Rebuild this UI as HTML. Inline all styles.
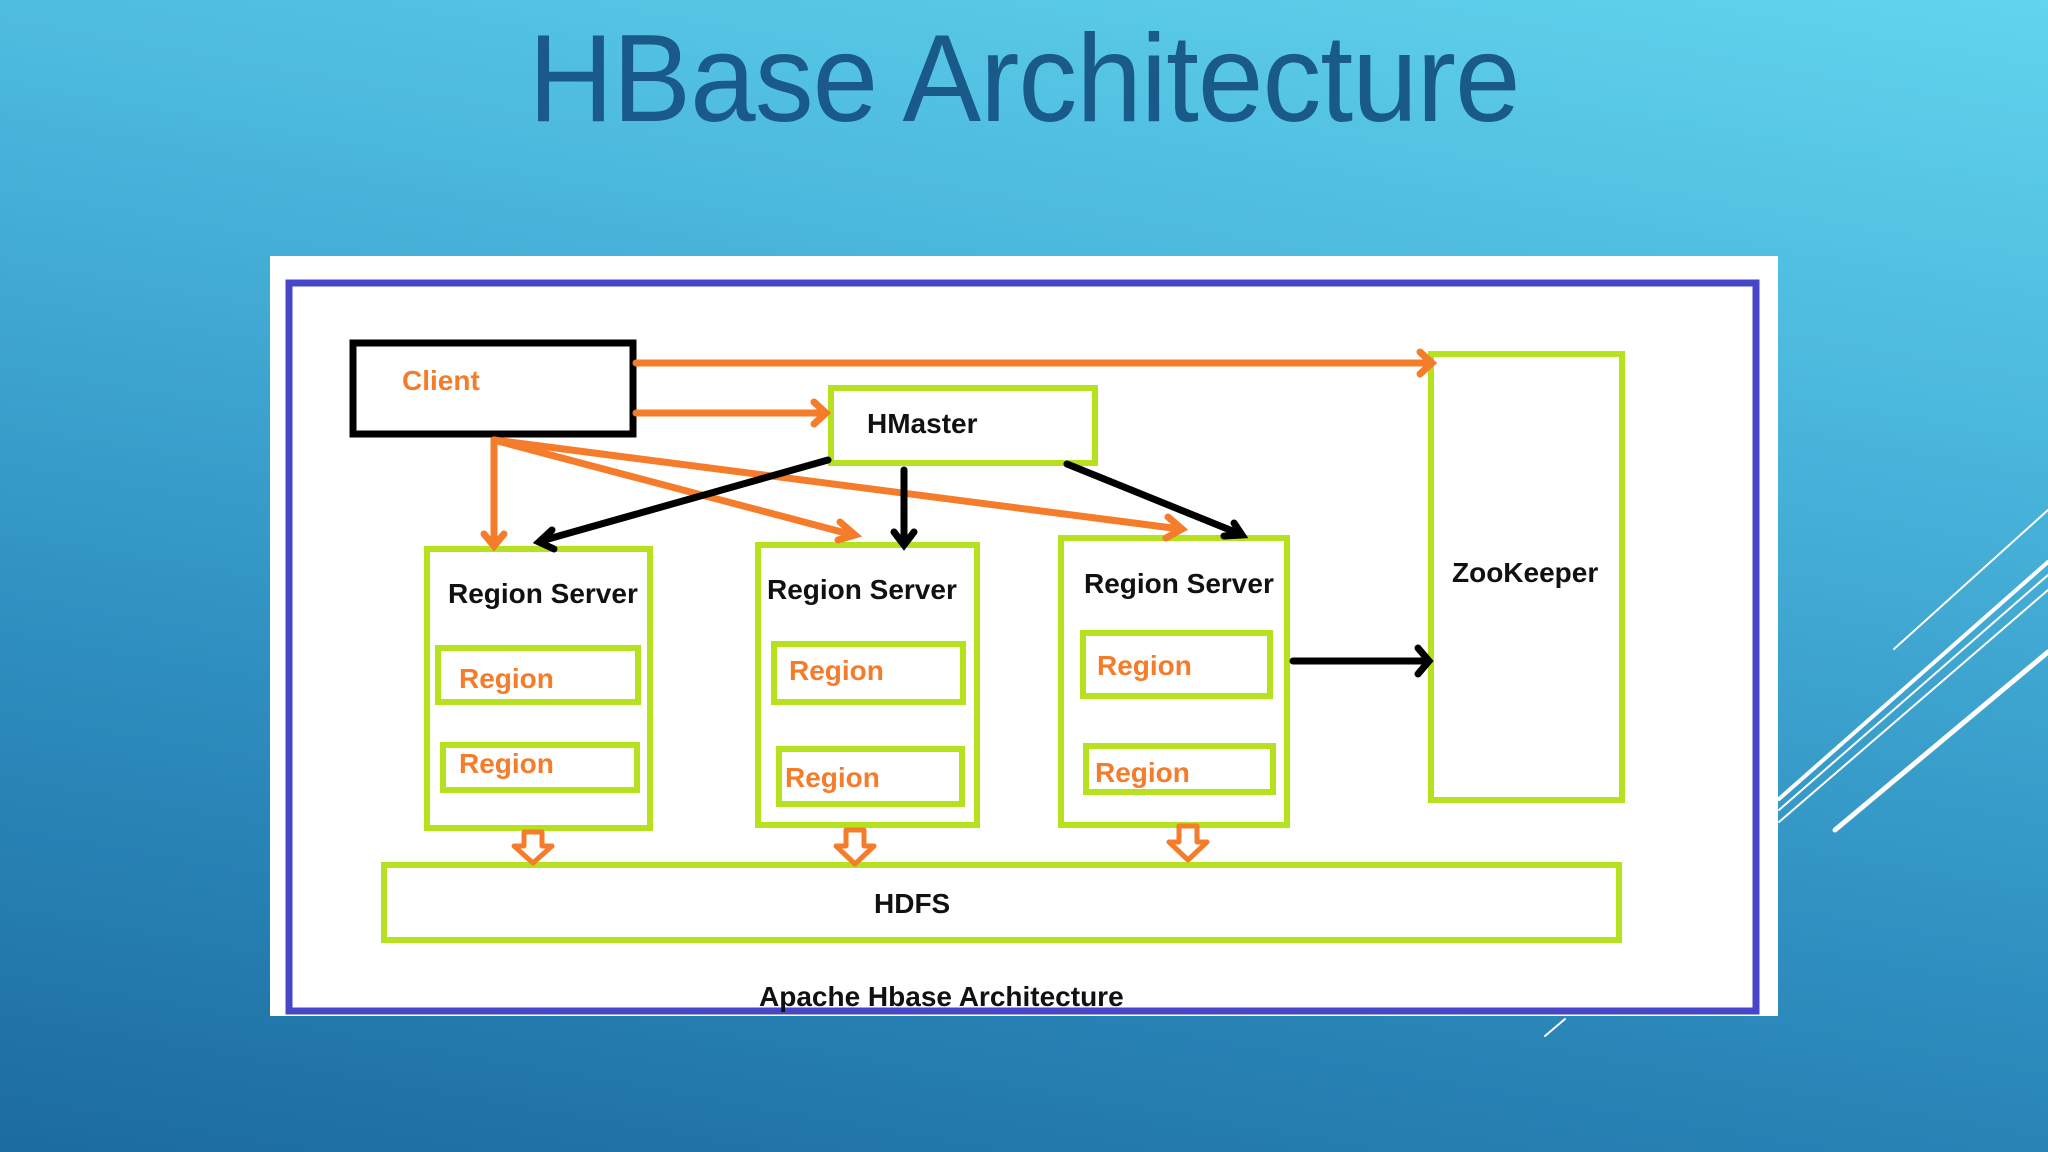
<!DOCTYPE html>
<html><head><meta charset="utf-8"><style>
html,body{margin:0;padding:0}
body{width:2048px;height:1152px;overflow:hidden;position:relative;
background:linear-gradient(190deg,#62d4ee 0%,#4ab6dc 30%,#2f8fc0 65%,#1c6ba0 100%);
font-family:"Liberation Sans",sans-serif}
.t{position:absolute;white-space:nowrap;font-weight:bold;font-size:28px;transform:translate(0,-50%)}
.o{color:#f57c2a}.k{color:#111}
</style></head><body>
<div style="position:absolute;left:0;width:2048px;top:8px;text-align:center;font-size:124px;color:#195a8a;letter-spacing:-1px;transform:scaleX(0.95)">HBase Architecture</div>
<svg width="2048" height="1152" style="position:absolute;left:0;top:0">
<g stroke="#fff" stroke-linecap="round">
<line x1="1894" y1="649" x2="2048" y2="510" stroke-width="2"/>
<line x1="1779" y1="799" x2="2048" y2="562" stroke-width="4"/>
<line x1="1779" y1="810" x2="2048" y2="575" stroke-width="2"/>
<line x1="1779" y1="822" x2="2048" y2="590" stroke-width="2"/>
<line x1="1835" y1="830" x2="2048" y2="652" stroke-width="5"/>
<line x1="1545" y1="1036" x2="1565" y2="1019" stroke-width="2"/>
</g>
<rect x="270" y="256" width="1508" height="760" fill="#fff"/>
<rect x="289" y="283" width="1467" height="728" fill="#fff" stroke="#4646c8" stroke-width="7"/>
<g fill="none" stroke="#b5e11e" stroke-width="6">
<rect x="831" y="388" width="264" height="75"/>
<rect x="1431" y="354" width="191" height="446"/>
<rect x="427" y="549" width="223" height="279"/>
<rect x="438" y="648" width="200" height="54"/>
<rect x="443" y="745" width="194" height="45"/>
<rect x="758" y="545" width="219" height="280"/>
<rect x="774" y="644" width="189" height="58"/>
<rect x="779" y="749" width="183" height="55"/>
<rect x="1061" y="538" width="226" height="287"/>
<rect x="1083" y="633" width="187" height="63"/>
<rect x="1086" y="746" width="187" height="46"/>
<rect x="384" y="865" width="1235" height="75"/>
</g>
<rect x="353" y="343" width="280" height="91" fill="none" stroke="#000" stroke-width="7"/>
<g stroke="#f57c2a" stroke-width="7" fill="none" stroke-linecap="round">
<line x1="636" y1="363" x2="1430" y2="363"/><polyline points="1420,352 1432,363 1420,374"/>
<line x1="636" y1="413" x2="824" y2="413"/><polyline points="814,402 826,413 814,424"/>
<line x1="494" y1="440" x2="494" y2="544"/><polyline points="484,534 494,546 504,534"/>
<line x1="494" y1="440" x2="853" y2="535"/><polyline points="840,522 855,535 838,540"/>
<line x1="494" y1="440" x2="1180" y2="529"/><polyline points="1168,517 1182,529 1166,538"/>
</g>
<g stroke="#000" stroke-width="7" fill="none" stroke-linecap="round">
<line x1="828" y1="460" x2="541" y2="541"/><polyline points="552,530 539,542 554,549"/>
<line x1="904" y1="470" x2="904" y2="542"/><polyline points="894,532 904,545 914,532"/>
<line x1="1067" y1="464" x2="1240" y2="534"/><polyline points="1224,536 1242,535 1234,523"/>
<line x1="1293" y1="661" x2="1426" y2="661"/><polyline points="1418,648 1429,661 1418,674"/>
</g>
<g fill="#fff" stroke="#f57c2a" stroke-width="5" stroke-linejoin="round">
<polygon points="524,832 542,832 542,846 552,846 533,863 514,846 524,846"/>
<polygon points="846,830 864,830 864,846 874,846 855,864 836,846 846,846"/>
<polygon points="1179,826 1197,826 1197,842 1207,842 1188,860 1169,842 1179,842"/>
</g>
</svg>
<div class="t o" style="left:402px;top:381px">Client</div>
<div class="t k" style="left:867px;top:424px">HMaster</div>
<div class="t k" style="left:1452px;top:573px">ZooKeeper</div>
<div class="t k" style="left:448px;top:594px">Region Server</div>
<div class="t k" style="left:767px;top:590px">Region Server</div>
<div class="t k" style="left:1084px;top:584px">Region Server</div>
<div class="t o" style="left:459px;top:679px">Region</div>
<div class="t o" style="left:459px;top:764px">Region</div>
<div class="t o" style="left:789px;top:671px">Region</div>
<div class="t o" style="left:785px;top:778px">Region</div>
<div class="t o" style="left:1097px;top:666px">Region</div>
<div class="t o" style="left:1095px;top:773px">Region</div>
<div class="t k" style="left:874px;top:904px">HDFS</div>
<div class="t k" style="left:759px;top:997px">Apache Hbase Architecture</div>
</body></html>
